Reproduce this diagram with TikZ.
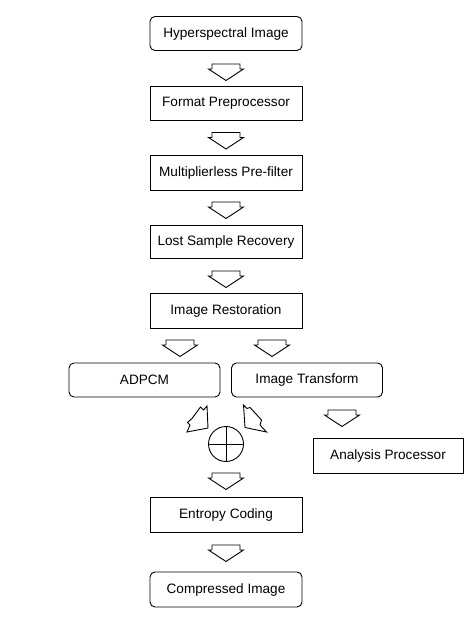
\documentclass[tikz,border=0pt]{standalone}
\usepackage{fontspec}
\setmainfont{Liberation Sans}
\begin{document}
\begin{tikzpicture}[x=1pt,y=-1pt,
  every node/.style={font=\fontsize{13.6}{15}\selectfont, outer sep=0pt, inner sep=0pt},
  box/.style={draw, line width=0.9pt, minimum width=152pt, minimum height=34pt},
  rbox/.style={box, rounded corners=5pt},
  arrowline/.style={draw, line width=0.9pt, line join=miter, fill=white},
  darrow/.pic={\draw[arrowline] (-14,0) -- (14,0) -- (14,5) -- (17.5,5) -- (0,16.5) -- (-17.5,5) -- (-14,5) -- cycle;}]
\useasboundingbox (0,0) rectangle (474,618);
\node[rbox] (hyp) at (226,33.5) {Hyperspectral Image};
\node[box] (fmt) at (226,103) {Format Preprocessor};
\node[box, minimum height=35pt] (mul) at (226,172.5) {Multiplierless Pre-filter};
\node[box, minimum height=33pt] (lost) at (226,241.5) {Lost Sample Recovery};
\node[box, minimum height=35pt] (rest) at (226,310.5) {Image Restoration};
\node[rbox, minimum width=151pt] (adpcm) at (144.5,380) {ADPCM};
\node[rbox, minimum width=151pt] (trans) at (307,380) {Image Transform};
\node[box, minimum width=150pt, minimum height=35pt] (anal) at (388,455.5) {Analysis Processor};
\node[draw, line width=0.9pt, circle, minimum size=35pt] (sum) at (226,444) {};
\draw[line width=0.9pt] (sum.north) -- (sum.south) (sum.west) -- (sum.east);
\node[box, minimum height=35pt] (ent) at (226,514.5) {Entropy Coding};
\node[rbox, minimum height=35pt] (comp) at (226,589.5) {Compressed Image};
% block arrows
\pic at (226,64) {darrow};
\pic at (226,132.5) {darrow};
\pic at (226,202) {darrow};
\pic at (226,271) {darrow};
\pic at (180,340) {darrow};
\pic at (272,340) {darrow};
\pic at (342,410) {darrow};
\pic at (226,473) {darrow};
\pic at (226,545) {darrow};
% tilted arrows towards the summing node
\draw[arrowline] (207,406) -- (203.5,410) -- (200.5,407) -- (192,418.5) -- (187.5,422.5) -- (190,425) -- (187,432) -- (208,428) -- cycle;
\draw[arrowline] (243.5,405) -- (247,408.5) -- (250,407.5) -- (261.5,420) -- (260,425) -- (266.5,432) -- (245,427.5) -- cycle;
\end{tikzpicture}
\end{document}
